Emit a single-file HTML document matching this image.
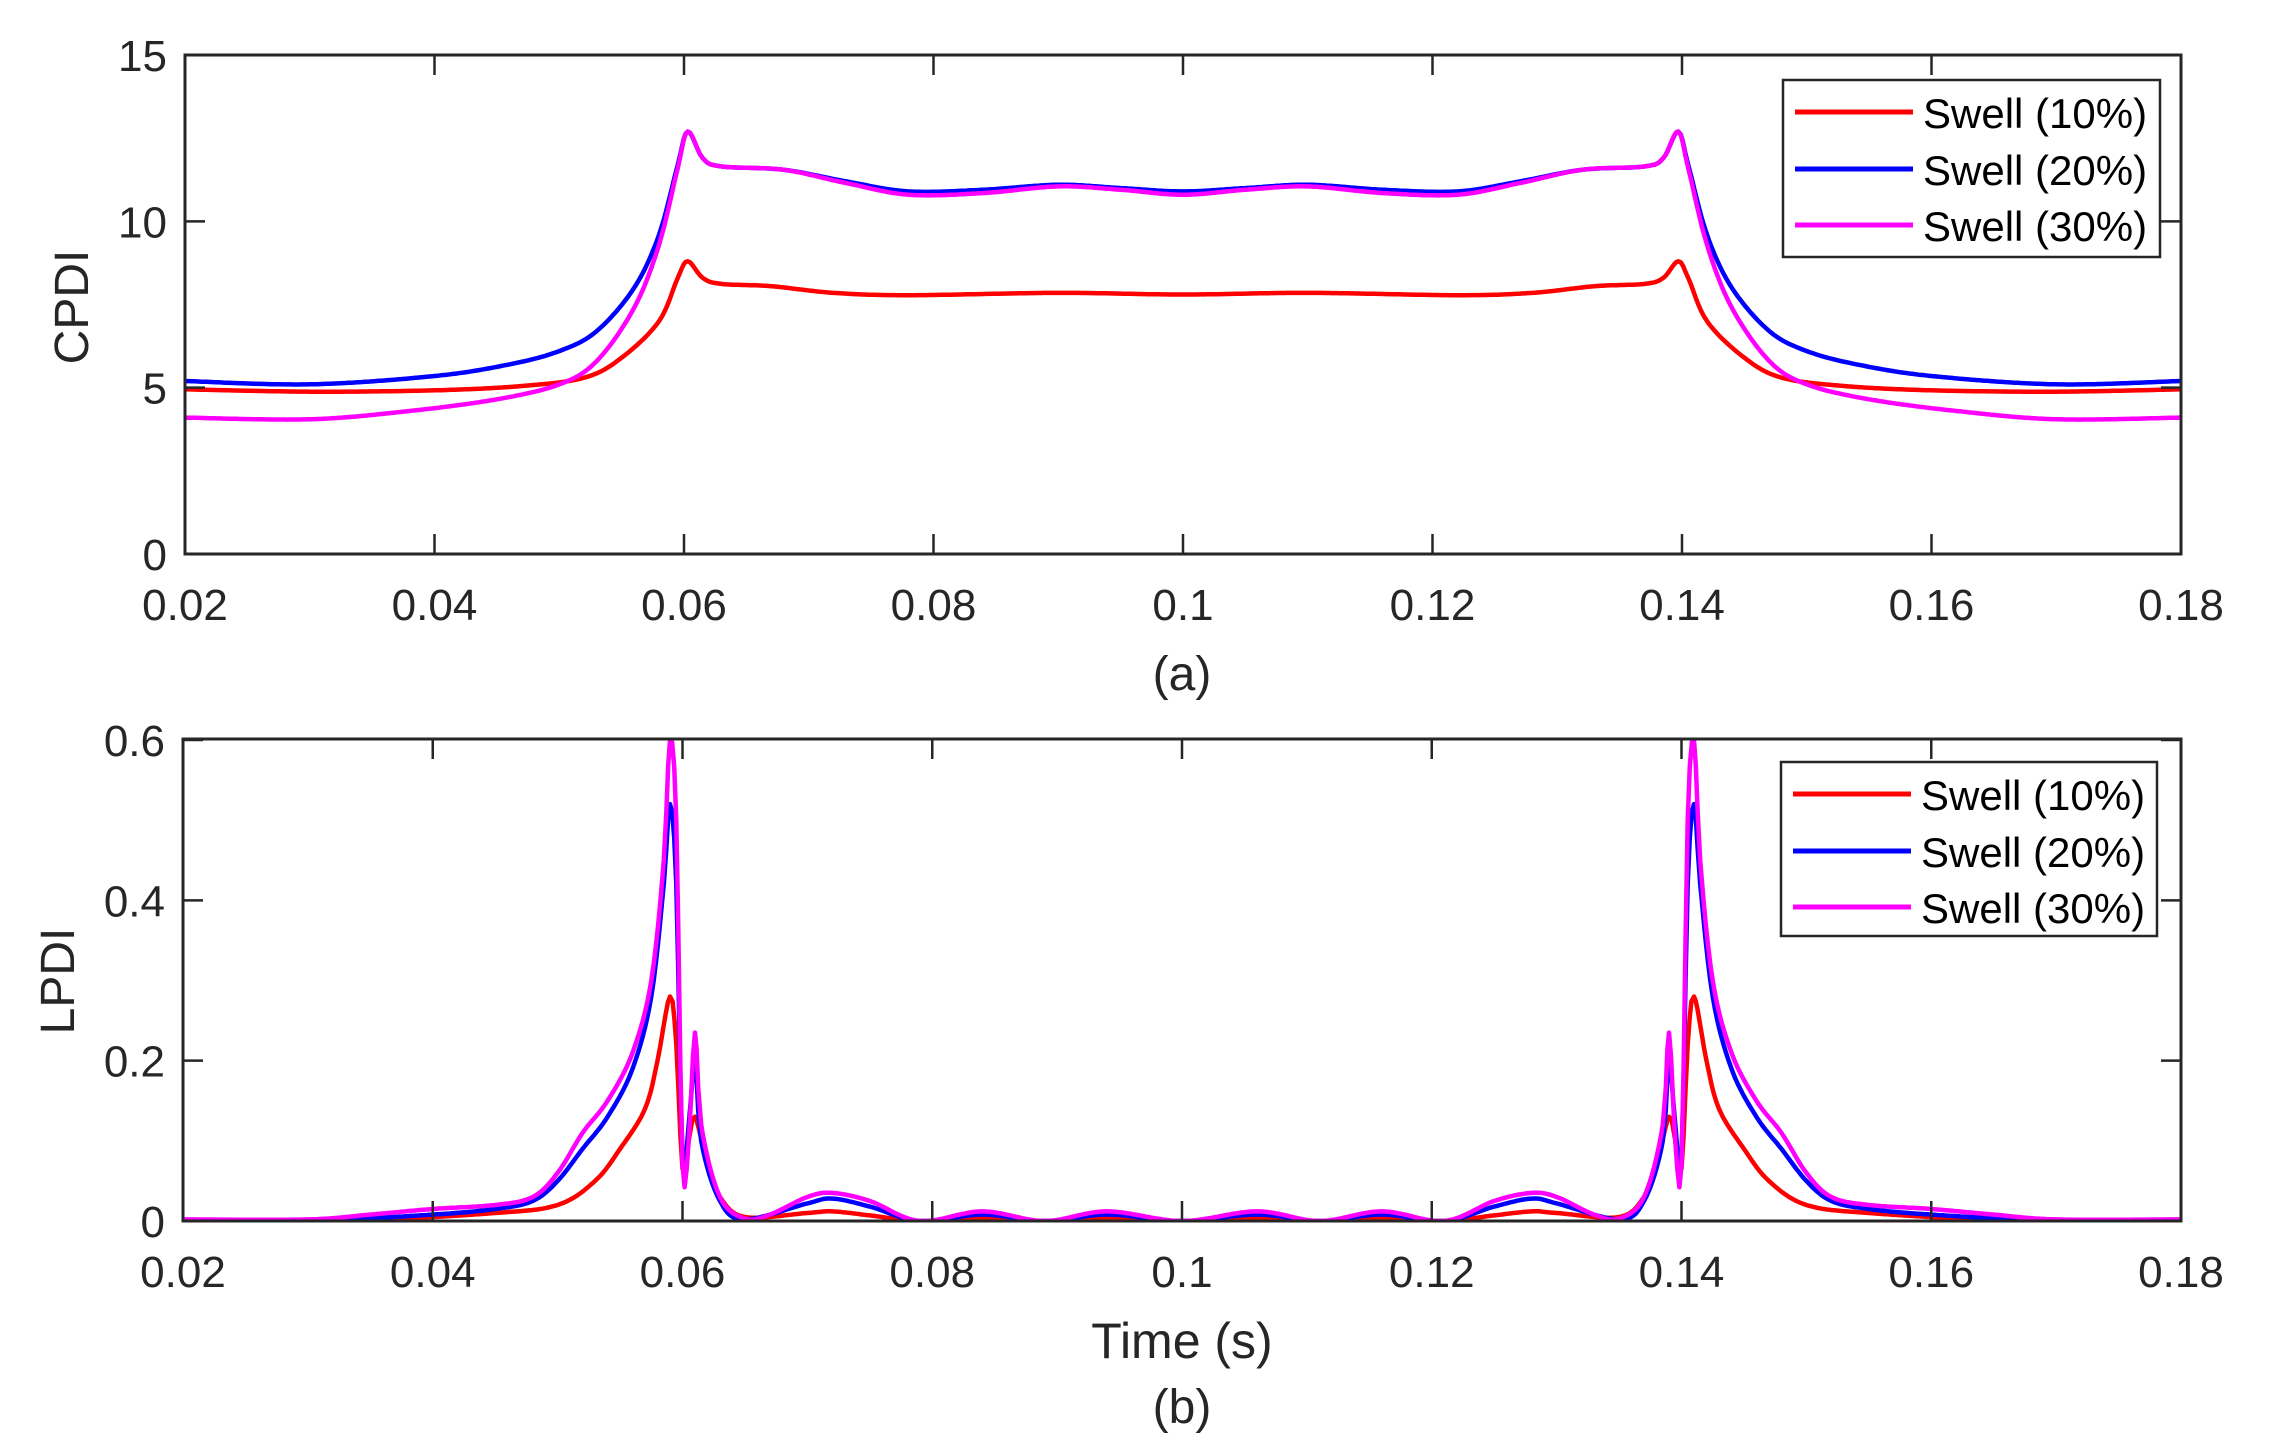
<!DOCTYPE html>
<html><head><meta charset="utf-8"><style>
html,body{margin:0;padding:0;background:#fff;}
svg{display:block;}
text{font-family:"Liberation Sans",sans-serif;fill:#262626;}
</style></head><body>
<svg id="s" width="2269" height="1443" xmlns="http://www.w3.org/2000/svg">
<defs>
<clipPath id="c1"><rect x="185" y="55" width="1996" height="499"/></clipPath>
<clipPath id="c2"><rect x="183" y="738" width="1998" height="484"/></clipPath>
</defs>
<g id="g1" clip-path="url(#c1)"></g>
<g id="g2" clip-path="url(#c2)"></g>
<g id="ax"></g>
</svg>
<script>
var NS="http://www.w3.org/2000/svg";
function el(p,n,a,t){var e=document.createElementNS(NS,n);for(var k in a)e.setAttribute(k,a[k]);if(t!=null)e.textContent=t;p.appendChild(e);return e;}
function full(pts){var r=pts.slice();for(var i=pts.length-2;i>=0;i--)r.push([0.2-pts[i][0],pts[i][1]]);return r;}
function sample(pts,step){var out=[];for(var i=0;i<pts.length-1;i++){var p0=pts[Math.max(i-1,0)],p1=pts[i],p2=pts[i+1],p3=pts[Math.min(i+2,pts.length-1)];
var n=Math.max(2,Math.ceil((p2[0]-p1[0])/step));for(var j=0;j<n;j++){var t=j/n,t2=t*t,t3=t2*t;
function cr(a,b,c,d){return 0.5*(2*b+(-a+c)*t+(2*a-5*b+4*c-d)*t2+(-a+3*b-3*c+d)*t3);}
out.push([cr(p0[0],p1[0],p2[0],p3[0]),cr(p0[1],p1[1],p2[1],p3[1])]);}}out.push(pts[pts.length-1]);return out;}
function path(g,pts,X,Y,col,minv){var s=sample(full(pts),0.0002);var d="";s.forEach(function(p,i){var v=Math.max(p[1],minv);d+=(i?"L":"M")+X(p[0]).toFixed(1)+","+Y(v).toFixed(1);});
el(g,"path",{d:d,fill:"none",stroke:col,"stroke-width":4.5,"stroke-linejoin":"round"});}
var X1=function(t){return 185+(t-0.02)*1996/0.16;},Y1=function(v){return 554-v*499/15;};
var red1=[[0.02,4.95],[0.03,4.88],[0.04,4.92],[0.047,5.05],[0.052,5.3],[0.055,5.9],[0.058,7.0],[0.0595,8.3],[0.0603,8.8],[0.0615,8.3],[0.063,8.12],[0.067,8.05],[0.072,7.85],[0.078,7.78],[0.09,7.85],[0.1,7.8]];
var blue1=[[0.02,5.2],[0.03,5.1],[0.04,5.35],[0.046,5.7],[0.05,6.1],[0.053,6.7],[0.056,8.0],[0.058,9.6],[0.0595,11.7],[0.0603,12.7],[0.0615,11.9],[0.063,11.65],[0.068,11.55],[0.073,11.2],[0.078,10.9],[0.084,10.95],[0.09,11.1],[0.095,11.0],[0.1,10.9]];
var mag1=[[0.02,4.1],[0.03,4.05],[0.038,4.3],[0.045,4.65],[0.05,5.1],[0.053,5.8],[0.056,7.4],[0.058,9.3],[0.0595,11.6],[0.0603,12.7],[0.0615,11.9],[0.063,11.65],[0.068,11.55],[0.073,11.15],[0.078,10.8],[0.084,10.85],[0.09,11.05],[0.095,10.95],[0.1,10.8]];
var g1=document.getElementById("g1");
path(g1,red1,X1,Y1,"#ff0000",-1);path(g1,blue1,X1,Y1,"#0000ff",-1);path(g1,mag1,X1,Y1,"#ff00ff",-1);
var X2=function(t){return 183+(t-0.02)*1998/0.16;},Y2=function(v){return 1221-v*481/0.6;};
var mag2=[[0.02,0.002],[0.03,0.002],[0.035,0.008],[0.04,0.015],[0.045,0.02],[0.048,0.03],[0.05,0.06],[0.052,0.11],[0.054,0.15],[0.056,0.21],[0.0575,0.3],[0.0585,0.45],[0.059,0.6],[0.0595,0.5],[0.06,0.07],[0.0605,0.1],[0.061,0.235],[0.0615,0.12],[0.063,0.03],[0.065,0.003],[0.067,0.008],[0.07,0.03],[0.072,0.035],[0.075,0.025],[0.079,0.0],[0.084,0.012],[0.089,0.0],[0.094,0.012],[0.1,0]];
var blue2=[[0.02,0.0],[0.03,0.0],[0.04,0.008],[0.045,0.015],[0.048,0.025],[0.05,0.05],[0.052,0.09],[0.054,0.13],[0.056,0.19],[0.0575,0.28],[0.0585,0.42],[0.059,0.52],[0.0595,0.42],[0.06,0.08],[0.0605,0.12],[0.061,0.2],[0.0615,0.1],[0.063,0.025],[0.065,0.002],[0.07,0.022],[0.072,0.028],[0.075,0.018],[0.079,0],[0.084,0.008],[0.089,0],[0.094,0.008],[0.1,0]];
var red2=[[0.02,0],[0.035,0.002],[0.045,0.01],[0.05,0.02],[0.053,0.05],[0.055,0.09],[0.057,0.14],[0.058,0.2],[0.059,0.28],[0.0595,0.22],[0.06,0.065],[0.0605,0.1],[0.061,0.13],[0.062,0.07],[0.063,0.03],[0.065,0.005],[0.07,0.01],[0.072,0.012],[0.075,0.007],[0.079,0],[0.084,0.004],[0.089,0],[0.094,0.004],[0.1,0]];
var g2=document.getElementById("g2");
path(g2,red2,X2,Y2,"#ff0000",0);path(g2,blue2,X2,Y2,"#0000ff",0);path(g2,mag2,X2,Y2,"#ff00ff",0);
var ax=document.getElementById("ax");
function axes(x0,y0,x1,y1,yt,ylab,Y,X,ytf){
 el(ax,"rect",{x:x0,y:y0,width:x1-x0,height:y1-y0,fill:"none",stroke:"#262626","stroke-width":3});
 for(var i=0;i<=8;i++){var t=0.02+i*0.02,x=X(t);
  el(ax,"line",{x1:x,y1:y1,x2:x,y2:y1-20,stroke:"#262626","stroke-width":2.5});
  el(ax,"line",{x1:x,y1:y0,x2:x,y2:y0+20,stroke:"#262626","stroke-width":2.5});
  var lbl=(Math.round(t*100)/100).toString();
  el(ax,"text",{x:x,y:y1+66,"font-size":44,"text-anchor":"middle"},lbl);}
 yt.forEach(function(v){var y=Y(v);
  el(ax,"line",{x1:x0,y1:y,x2:x0+20,y2:y,stroke:"#262626","stroke-width":2.5});
  el(ax,"line",{x1:x1,y1:y,x2:x1-20,y2:y,stroke:"#262626","stroke-width":2.5});
  el(ax,"text",{x:x0-18,y:y+16,"font-size":44,"text-anchor":"end"},ytf(v));});
}
axes(185,55,2181,554,[0,5,10,15],"CPDI",Y1,X1,function(v){return ""+v;});
axes(183,739,2181,1221,[0,0.2,0.4,0.6],"LPDI",Y2,X2,function(v){return ""+v;});
el(ax,"text",{x:88,y:307,"font-size":48,"text-anchor":"middle",transform:"rotate(-90 88 307)"},"CPDI");
el(ax,"text",{x:74,y:981,"font-size":48,"text-anchor":"middle",transform:"rotate(-90 74 981)"},"LPDI");
el(ax,"text",{x:1182,y:690,"font-size":48,"text-anchor":"middle"},"(a)");
el(ax,"text",{x:1182,y:1358,"font-size":50,"text-anchor":"middle"},"Time (s)");
el(ax,"text",{x:1182,y:1423,"font-size":48,"text-anchor":"middle"},"(b)");
function legend(x0,y0,x1,y1,ys){
 el(ax,"rect",{x:x0,y:y0,width:x1-x0,height:y1-y0,fill:"#fff",stroke:"#262626","stroke-width":2.5});
 var cols=["#ff0000","#0000ff","#ff00ff"],labs=["Swell (10%)","Swell (20%)","Swell (30%)"];
 for(var i=0;i<3;i++){el(ax,"line",{x1:x0+12,y1:ys[i],x2:x0+130,y2:ys[i],stroke:cols[i],"stroke-width":5});
  el(ax,"text",{x:x0+140,y:ys[i]+16,"font-size":42,style:"fill:#000"},labs[i]);}
}
legend(1783,80,2160,257,[112,169,225]);
legend(1781,762,2157,936,[794,851,907]);
</script>
</body></html>
